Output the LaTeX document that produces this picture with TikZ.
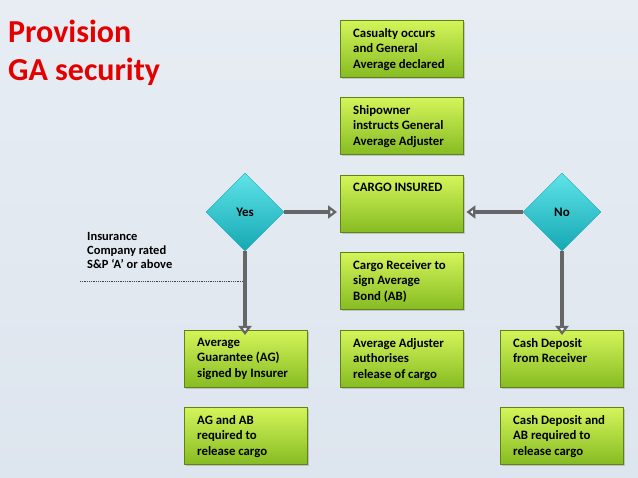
\documentclass[tikz,border=0pt]{standalone}
\usepackage{fontspec}
\setmainfont{Carlito}
\usetikzlibrary{shapes.geometric,arrows.meta,shadows}
\definecolor{bgc}{HTML}{DDE5EE}
\definecolor{gl}{HTML}{D4F55A}
\definecolor{gd}{HTML}{86BC22}
\definecolor{cl}{HTML}{5FE3E8}
\definecolor{cd}{HTML}{15A8B4}
\begin{document}
\begin{tikzpicture}[x=1pt,y=-1pt,
 box/.style={draw=gd!70!black,line width=0.4pt,minimum width=123pt,minimum height=57pt,anchor=north west,
   top color=gl,bottom color=gd,drop shadow={opacity=0.35,shadow xshift=2pt,shadow yshift=-2pt},
   inner sep=0pt},
 dia/.style={diamond,minimum width=78pt,minimum height=78pt,inner sep=0pt,top color=cl,bottom color=cd,draw=cd,
   font=\bfseries\fontsize{13}{15}\selectfont},
 conn/.style={draw=gray!80!black,line width=3.5pt,-{Triangle[open,fill=white,length=9pt,width=13pt]}},
 lbl/.style={anchor=north west,align=left,inner sep=0pt,font=\bfseries\fontsize{12.8}{15.5}\selectfont}]
\fill[top color=bgc!70!white,bottom color=bgc] (0,0) rectangle (638,478);
\useasboundingbox (0,0) rectangle (638,478);
\node[anchor=north west,align=left,text=red!90!black,font=\bfseries\fontsize{32}{38}\selectfont,inner sep=0pt] (title) at (8,20) {Provision\\GA security};
\newcommand{\bx}[4]{\node[box] (#1) at (#2,#3) {}; \node[lbl] (#1t) at ([xshift=13pt,yshift=-8pt]#1.north west) {#4};}
\bx{b1}{340}{20}{Casualty occurs\\and General\\Average declared}
\bx{b2}{340}{97}{Shipowner\\instructs General\\Average Adjuster}
\bx{b3}{340}{175}{CARGO INSURED}
\bx{b4}{340}{252}{Cargo Receiver to\\sign Average\\Bond (AB)}
\bx{b5}{340}{330}{Average Adjuster\\authorises\\release of cargo}
\bx{l1}{184}{330}{Average\\Guarantee (AG)\\signed by Insurer}
\bx{l2}{184}{407}{AG and AB\\required to\\release cargo}
\bx{r1}{500}{330}{Cash Deposit\\from Receiver}
\bx{r2}{500}{407}{Cash Deposit and\\AB required to\\release cargo}
\node[dia] (yes) at (245,212) {Yes};
\node[dia] (no) at (562,212) {No};
\draw[conn] (yes.east) -- ([xshift=-3pt]b3.west |- yes.east);
\draw[conn] (no.west) -- ([xshift=3pt]b3.east |- no.west);
\draw[conn] (yes.south) -- ([yshift=-5pt]l1.north -| yes.south);
\draw[conn] (no.south) -- ([yshift=-5pt]r1.north -| no.south);
\node[lbl,font=\bfseries\fontsize{12.5}{14}\selectfont] (ins) at (87,232) {Insurance\\Company rated\\S\&P ‘A’ or above};
\coordinate (d1) at (80,281);
\coordinate (d2) at (243,281);
\draw[densely dotted,line width=0.8pt,gray!50!black] (d1) -- (d2);
\end{tikzpicture}
\end{document}
